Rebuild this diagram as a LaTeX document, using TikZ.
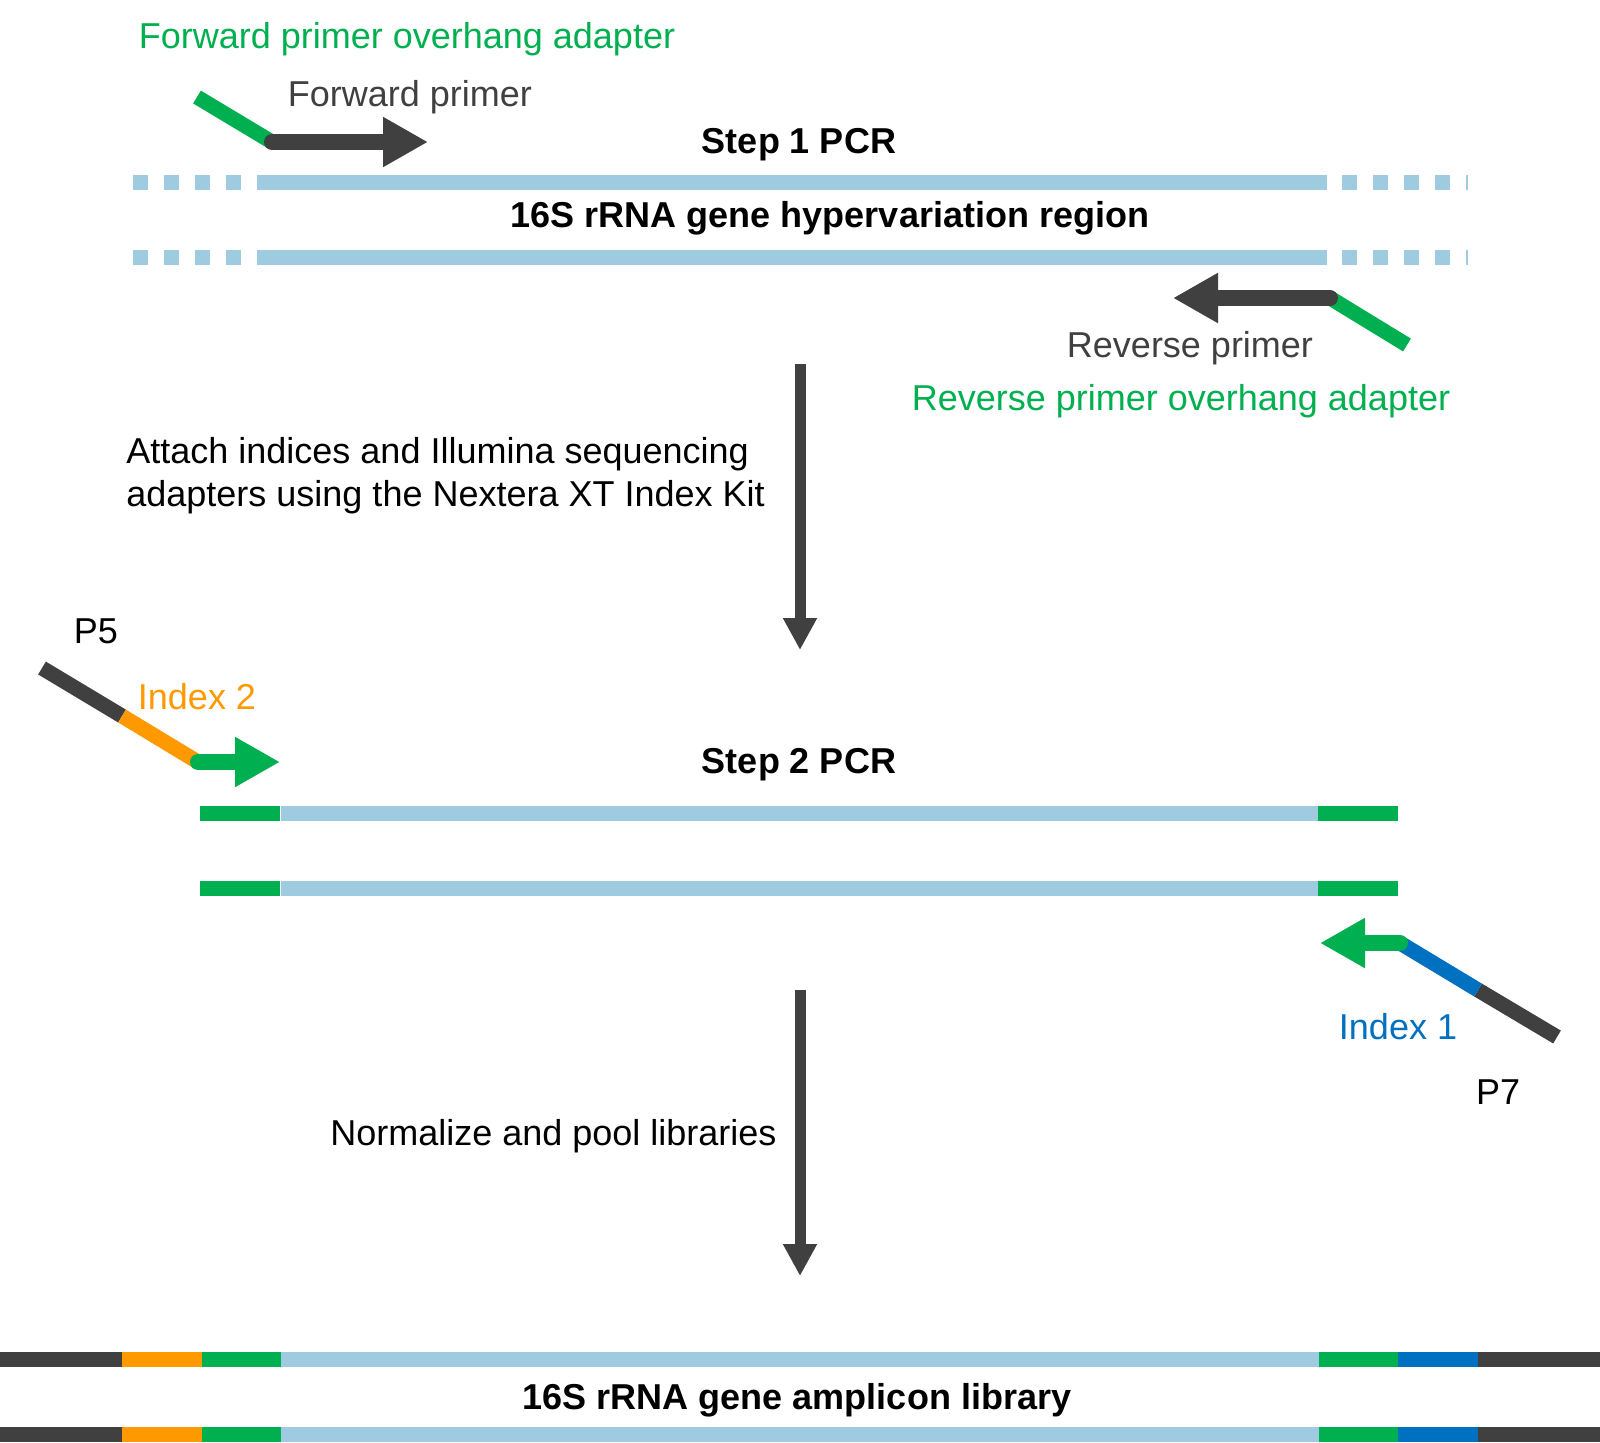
\documentclass[tikz,border=0pt]{standalone}
\usepackage{fontspec}
\setmainfont{Liberation Sans}
\usetikzlibrary{arrows.meta,positioning}
\definecolor{lblue}{HTML}{9FCBE1}
\definecolor{adgreen}{HTML}{00B050}
\definecolor{idxorange}{HTML}{FF9900}
\definecolor{idxblue}{HTML}{0070C0}
\definecolor{dgray}{HTML}{404040}
\newcommand{\Sgreen}[1]{\textcolor{adgreen}{#1}}
\newcommand{\Sgray}[1]{\textcolor{dgray}{#1}}
\tikzset{
  lbl/.style={draw=none,inner sep=1pt,font=\fontsize{18}{21.6}\selectfont},
  title/.style={lbl,font=\fontsize{18}{21.6}\selectfont\bfseries},
  tail/.style={line width=7.5pt},
  primer/.style={line width=8pt,line cap=round,-{Triangle[width=23.5pt,length=22.5pt]}},
  flow/.style={line width=5.5pt,dgray,-{Triangle[width=16pt,length=16pt]}},
}
\begin{document}
\begin{tikzpicture}[x=0.5pt,y=-0.5pt]
\useasboundingbox (0,0) rectangle (1600,1442);
% step 1 template
\foreach \y in {182.5,257.5} {
  \foreach \x in {133,164,195,226,1342,1373,1404,1435}
    \fill[lblue] (\x,\y-7.5) rectangle ++(15,15);
  \fill[lblue] (257,\y-7.5) rectangle (1327,\y+7.5);
  \fill[lblue] (1466,\y-7.5) rectangle ++(2,15);
}
% step 2 template
\foreach \y in {813,888} {
  \fill[adgreen] (200,\y-7.5) rectangle (280,\y+7.5);
  \fill[lblue] (281,\y-7.5) rectangle (1318,\y+7.5);
  \fill[adgreen] (1318,\y-7.5) rectangle (1398,\y+7.5);
}
% library
\foreach \y in {1359.5,1434.5}
  \foreach \a/\b/\c in {0/122/dgray,122/202/idxorange,202/281/adgreen,281/1319/lblue,
                        1319/1398/adgreen,1398/1478/idxblue,1478/1600/dgray}
    \fill[\c] (\a,\y-7.5) rectangle (\b,\y+7.5);
%
\node (fadapt) [lbl] at (407,39) {\Sgreen{Forward primer overhang adapter}};
\node (fprim) [lbl] at (410,97) {\Sgray{Forward primer}};
\node (step1) [title] at (799,145) {Step 1 PCR};
\node (region) [title] at (830,218) {16S rRNA gene hypervariation region};
\node (rprim) [lbl] at (1190,348) {\Sgray{Reverse primer}};
\node (radapt) [lbl] at (1181,401) {\Sgreen{Reverse primer overhang adapter}};
\node (attach) [lbl,anchor=west,align=left] at (124,476)
  {Attach indices and Illumina sequencing\\adapters using the Nextera XT Index Kit};
\node (p5) [lbl] at (96,631) {P5};
\node (idx2) [lbl] at (197,697) {\textcolor{idxorange}{Index 2}};
\node (step2) [title] at (799,765) {Step 2 PCR};
\node (idx1) [lbl] at (1398,1027) {\textcolor{idxblue}{Index 1}};
\node (p7) [lbl] at (1498,1092) {P7};
\node (pool) [lbl,anchor=east] at (779,1136) {Normalize and pool libraries};
\node (library) [title] at (797,1400) {16S rRNA gene amplicon library};
%
\coordinate (fa) at (197,97);
\coordinate (fb) at (272,142);
\coordinate (ft) at (428,142);
\coordinate (ra) at (1407,345);
\coordinate (rb) at (1330,298);
\coordinate (rt) at (1173,298);
\coordinate (p5a) at (42,668);
\coordinate (p5b) at (122,716);
\coordinate (p5c) at (198,762);
\coordinate (p5t) at (280,762);
\coordinate (p7a) at (1557,1037);
\coordinate (p7b) at (1478,990);
\coordinate (p7c) at (1400,943);
\coordinate (p7t) at (1320,943);
\coordinate (d1a) at (800,364);
\coordinate (d1b) at (800,650);
\coordinate (d2a) at (800,990);
\coordinate (d2b) at (800,1276);
%
\path[tail,adgreen] (fa) edge (fb);
\draw[primer,dgray] (fb) -- (ft);
\path[tail,adgreen] (ra) edge (rb);
\draw[primer,dgray] (rb) -- (rt);
\path[tail,dgray] (p5a) edge (p5b);
\path[tail,idxorange] (p5b) edge (p5c);
\draw[primer,adgreen] (p5c) -- (p5t);
\path[tail,dgray] (p7a) edge (p7b);
\path[tail,idxblue] (p7b) edge (p7c);
\draw[primer,adgreen] (p7c) -- (p7t);
\draw[flow] (d1a) -- (d1b);
\draw[flow] (d2a) -- (d2b);
\end{tikzpicture}
\end{document}
